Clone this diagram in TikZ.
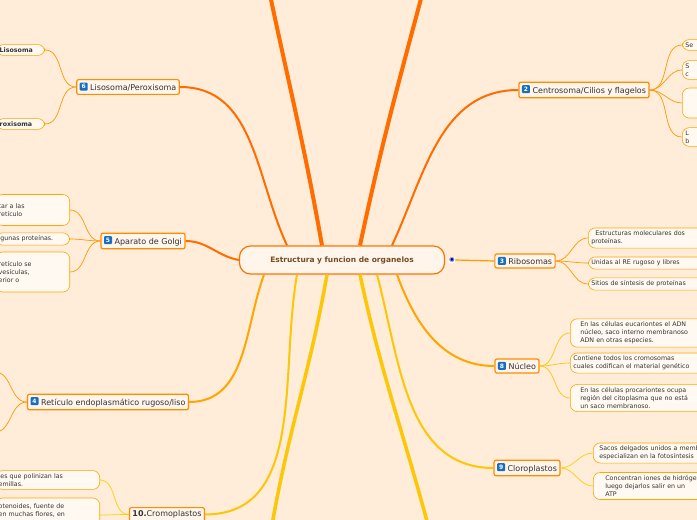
\documentclass[tikz,border=0pt]{standalone}
\usepackage{fontspec}
\setmainfont{DejaVu Sans}
\begin{document}
\begin{tikzpicture}[x=1pt,y=-1pt,
  font=\fontsize{6.3}{8}\selectfont,
  topic/.style={draw=orange!90!yellow,line width=1.2pt,rounded corners=2pt,fill=orange!8!white,inner sep=3pt,font=\fontsize{8}{10}\selectfont,text=black!80},
  sub/.style={draw=orange!70!yellow,line width=0.6pt,rounded corners=7pt,fill=orange!5!white,inner sep=3pt,text=black!80,align=left},
  subl/.style={sub,anchor=east,align=left},
  subr/.style={sub,anchor=west,text width=200pt,align=left},
  ic/.style={fill=cyan!50!blue,rounded corners=1pt,text=white,inner sep=1.2pt,font=\fontsize{6}{6}\bfseries\selectfont,minimum size=8pt},
  br/.style={line width=3pt,draw=orange!85!red},
  bry/.style={line width=3pt,draw=yellow!60!orange},
  lk/.style={line width=0.7pt,draw=orange!80!yellow}]
\fill[orange!15!white] (0,0) rectangle (697,520);
\clip (0,0) rectangle (697,520);
% main branches
\coordinate (tl) at (270,-5); \coordinate (tr) at (422,-5);
\coordinate (bl) at (272,525); \coordinate (brr) at (428,525);
\node[draw=orange!90!red,line width=1.2pt,rounded corners=11pt,fill=orange!8!white,minimum width=205pt,minimum height=28pt,font=\fontsize{7.5}{9}\bfseries\selectfont,text=brown!60!black] (c) at (342,260) {Estructura y funcion de organelos};
\draw[br,line width=4pt] ([xshift=-20pt]c.north) to[out=100,in=-78] (tl);
\draw[br,line width=4pt] ([xshift=18pt]c.north) to[out=78,in=-105] (tr);
\draw[bry,line width=3.5pt] ([xshift=-15pt]c.south) to[out=-100,in=80] (bl);
\draw[bry,line width=3.5pt] ([xshift=18pt]c.south) to[out=-78,in=105] (brr);
% topics
\node[topic] (lp) at (128,87) {\tikz\node[ic]{6}; Lisosoma/Peroxisoma};
\node[topic] (ag) at (143,241) {\tikz\node[ic]{5}; Aparato de Golgi};
\node[topic] (re) at (108,402) {\tikz\node[ic]{4}; Retículo endoplasmático rugoso/liso};
\node[topic,anchor=north] (cr) at (167,507) {\textbf{10.}Cromoplastos};
\node[topic] (ce) at (584,90) {\tikz\node[ic]{2}; Centrosoma/Cilios y flagelos};
\node[topic] (ri) at (525,261) {\tikz\node[ic]{3}; Ribosomas};
\node[topic] (nu) at (517,366) {\tikz\node[ic]{8}; Núcleo};
\node[topic] (cl) at (527,468) {\tikz\node[ic]{9}; Cloroplastos};
% branches to topics
\draw[br,line width=2pt] ([xshift=-55pt]c.north) to[out=115,in=0] (lp.east);
\draw[br,line width=2pt] (c.west) to[out=170,in=0] (ag.east);
\draw[br,line width=2pt,draw=orange!70!yellow] ([xshift=-78pt]c.south) to[out=-110,in=0] (re.east);
\draw[bry,line width=2pt] ([xshift=-45pt]c.south) to[out=-100,in=0] (cr.east);
\draw[br,line width=2pt] ([xshift=50pt]c.north) to[out=65,in=180] (ce.west);
\node[fill=white,inner sep=0.5pt,font=\fontsize{6}{6}\selectfont,text=blue!60!black] (icn) at (452,260) {◉};
\draw[lk,line width=1.2pt] (icn.east) -- (ri.west);
\draw[br,line width=2pt,draw=orange!70!yellow] ([xshift=55pt]c.south) to[out=-70,in=180] (nu.west);
\draw[bry,line width=2pt] ([xshift=35pt]c.south) to[out=-75,in=180] (cl.west);
% Lisosoma children
\node[subl,text width=42pt,font=\fontsize{6.3}{8}\bfseries\selectfont] (l1) at (45,50) {Lisosoma};
\node[subl,text width=42pt,font=\fontsize{6.3}{8}\bfseries\selectfont] (l2) at (45,124) {roxisoma};
\foreach \n in {l1,l2} \draw[lk] (lp.west) to[out=180,in=0] (\n.east);
% Golgi children
\node[subl,text width=68pt,minimum height=31pt] (g1) at (70,210) {tar a las\\ retículo};
\node[subl,text width=68pt] (g2) at (70,239) {lgunas proteínas.};
\node[subl,text width=68pt,minimum height=40pt] (g3) at (70,272) {retículo se\\ vesículas,\\ erior o};
\foreach \n in {g1,g2,g3} \draw[lk] (ag.west) to[out=180,in=0] (\n.east);
% Reticulo children (off canvas)
\coordinate (r1) at (-5,372); \coordinate (r2) at (-5,432);
\foreach \n in {r1,r2} \draw[lk] (re.west) to[out=180,in=0] (\n);
% Cromoplastos children
\node[subl,text width=98pt] (k1) at (100,480) {les que polinizan las\\ emillas.};
\node[subl,text width=98pt,minimum height=34pt] (k2) at (100,515) {otenoides, fuente de\\ en muchas flores, en\\ \strut};
\foreach \n in {k1,k2} \draw[lk,draw=yellow!70!orange] (cr.west) to[out=180,in=0] (\n.east);
% Centrosoma children
\node[subr] (s1) at (682,45) {Se};
\node[subr] (s2) at (682,70) {S\\c};
\node[subr,minimum height=30pt] (s3) at (682,103) {};
\node[subr] (s4) at (682,137) {L\\b};
\foreach \n in {s1,s2,s3,s4} \draw[lk] (ce.east) to[out=0,in=180] (\n.west);
% Ribosomas children
\node[subr] (b1) at (588,238) {\hspace*{4pt}Estructuras moleculares dos\\ proteínas.};
\node[subr] (b2) at (588,263) {Unidas al RE rugoso y libres};
\node[subr] (b3) at (588,284) {Sitios de síntesis de proteínas};
\foreach \n in {b1,b2,b3} \draw[lk] (ri.east) to[out=0,in=180] (\n.west);
% Nucleo children
\node[subr,inner xsep=6pt] (n1) at (570,333) {\hspace*{4pt}En las células eucariontes el ADN\\ \hspace*{4pt}núcleo, saco interno membranoso\\ \hspace*{4pt}ADN en otras especies.};
\node[subr] (n2) at (570,363) {Contiene todos los cromosomas\\ cuales codifican el material genético};
\node[subr,inner xsep=6pt] (n3) at (570,398) {\hspace*{4pt}En las células procariontes ocupa\\ \hspace*{4pt}región del citoplasma que no está\\ \hspace*{4pt}un saco membranoso.};
\foreach \n in {n1,n2,n3} \draw[lk,draw=yellow!60!orange] (nu.east) to[out=0,in=180] (\n.west);
% Cloroplastos children
\node[subr,inner xsep=6pt] (p1) at (593,453) {Sacos delgados unidos a membranas\\ especializan en la fotosíntesis};
\node[subr,inner xsep=8pt] (p2) at (593,486) {\hspace*{4pt}Concentran iones de hidrógeno\\ \hspace*{4pt}luego dejarlos salir en un\\ \hspace*{4pt}ATP};
\foreach \n in {p1,p2} \draw[lk,draw=yellow!70!orange] (cl.east) to[out=0,in=180] (\n.west);
\end{tikzpicture}
\end{document}
